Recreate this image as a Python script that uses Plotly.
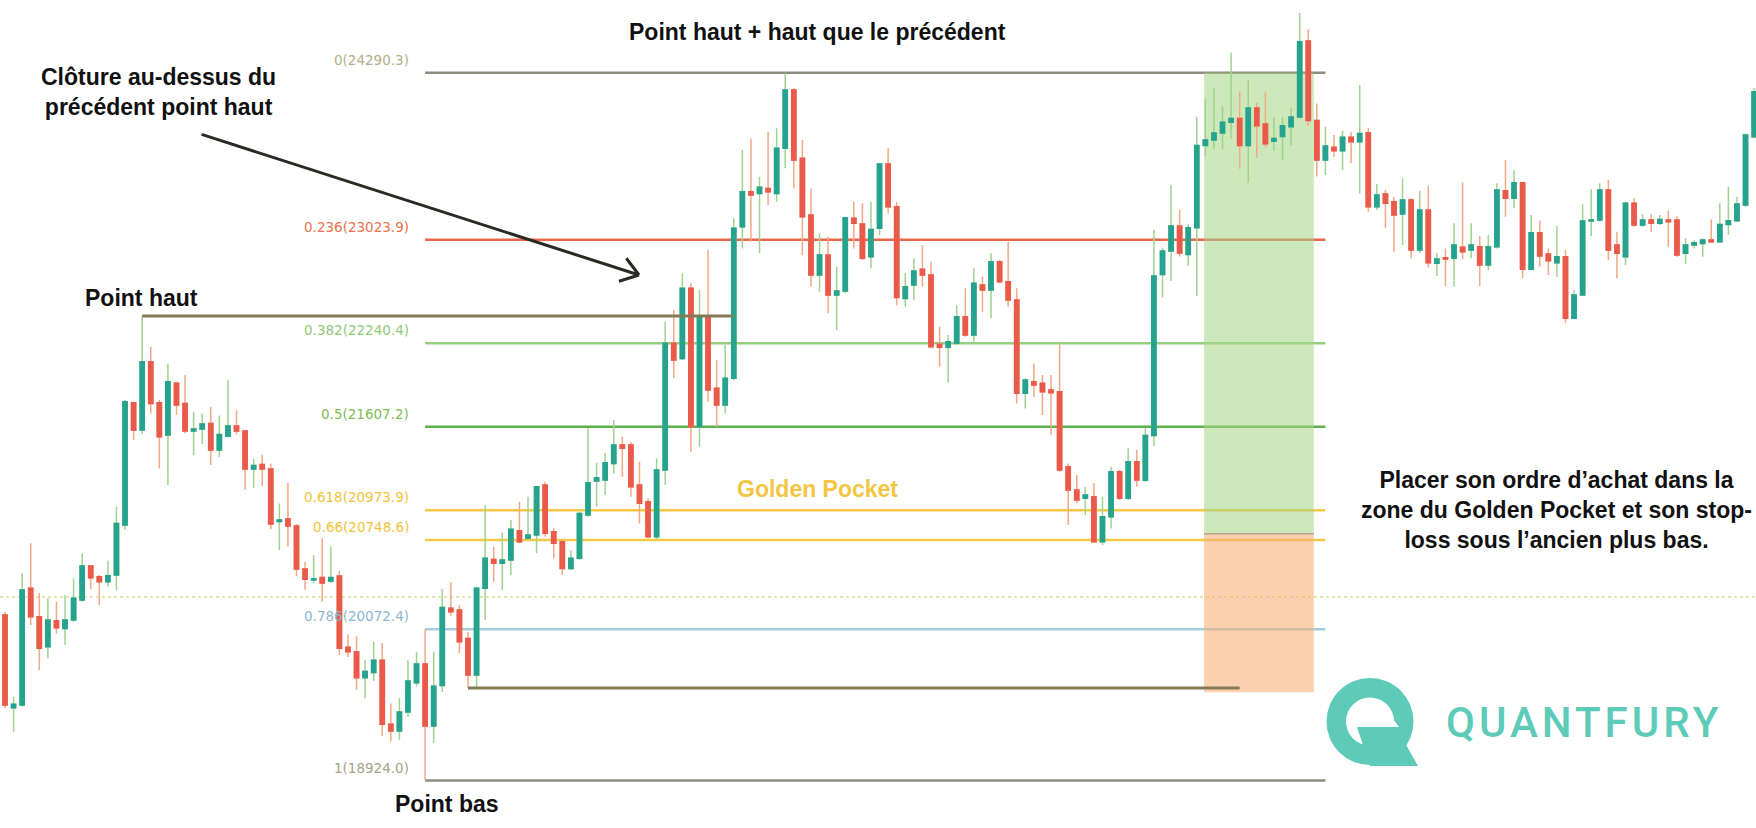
import math
import plotly.graph_objects as go

W, H = 1756, 828

# ---------------- data ----------------
opens = [20179, 19476, 19497, 20382, 20166, 19939, 20136, 20078, 20141, 20293,
         20551, 20470, 20432, 20482, 20861, 21789, 21582, 22100, 21789, 21544,
         21936, 21784, 21574, 21589, 21632, 21430, 21535, 21613, 21574, 21286,
         21320, 21286, 20889, 20907, 20855, 20528, 20444, 20463, 20437, 20476,
         19935, 19901, 19704, 19744, 19836, 19352, 19300, 19444, 19665, 19809,
         19338, 19645, 20230, 20217, 20002, 19724, 20382, 20601, 20571, 20596,
         20818, 20761, 20786, 21165, 20811, 20735, 20533, 20609, 20937, 21195,
         21203, 21329, 21468, 21468, 21165, 21038, 20773, 21279, 22239, 22125,
         22656, 21607, 22441, 21898, 21771, 21974, 23123, 23389, 23376, 23414,
         23376, 23718, 24160, 23642, 23212, 22757, 22909, 22605, 22636, 23187,
         23144, 22896, 23111, 23599, 23275, 22580, 22681, 22800, 22757, 22232,
         22209, 22239, 22441, 22302, 22681, 22643, 22858, 22706, 22567, 21860,
         21948, 21936, 21885, 21872, 21304, 21127, 21064, 21076, 20735, 20924,
         21266, 21064, 21341, 21202, 21541, 22762, 22939, 23129, 22912, 23115,
         23739, 23780, 23834, 23916, 23943, 23739, 24024, 23902, 23771, 23807,
         23881, 23956, 24531, 23929, 23629, 23725, 23699, 23801, 23768, 23836,
         23275, 23371, 23313, 23220, 23326, 22947, 23250, 22846, 22888, 22884,
         22967, 22947, 22972, 22833, 22972, 23396, 23339, 23457, 22800, 23078,
         22916, 22850, 22896, 22429, 22605, 23166, 23174, 23401, 22984, 22896,
         23301, 23136, 23174, 23149, 23174, 23174, 22922, 22984, 22997, 23022,
         23009, 23141, 23169, 23288, 23806]
highs = [20202, 19560, 20495, 20723, 20344, 20306, 20280, 20331, 20457, 20647,
         20558, 20482, 20591, 21000, 21809, 21796, 22446, 22213, 21809, 22087,
         21948, 21999, 21721, 21708, 21758, 21692, 21959, 21731, 21574, 21365,
         21392, 21326, 21025, 21181, 20869, 20581, 20634, 20763, 20698, 20515,
         20031, 20018, 19836, 19979, 19967, 19509, 19548, 19836, 19901, 20071,
         19901, 20376, 20429, 20255, 20052, 20394, 21013, 20697, 20803, 20899,
         21038, 21076, 21152, 21190, 20836, 20748, 20672, 20962, 21595, 21334,
         21405, 21658, 21531, 21493, 21341, 21064, 21367, 22403, 22492, 22770,
         22694, 22643, 22947, 22113, 22226, 23187, 23705, 23793, 23502, 23844,
         23869, 24286, 24173, 23781, 23414, 23073, 23047, 22820, 23199, 23313,
         23301, 23313, 23604, 23718, 23313, 22770, 22884, 22984, 22858, 22365,
         22302, 22530, 22656, 22808, 22744, 22922, 22871, 23009, 22656, 21974,
         22087, 21999, 21999, 22239, 21329, 21241, 21152, 21178, 21076, 21304,
         21279, 21443, 21430, 21595, 23101, 22966, 23441, 23251, 23142, 23956,
         24092, 24173, 24038, 24445, 24146, 24233, 24065, 24141, 23956, 23956,
         24024, 24743, 24621, 24057, 23881, 23818, 23851, 23844, 24198, 23869,
         23447, 23401, 23351, 23490, 23339, 23396, 23432, 22926, 22959, 23149,
         23460, 23149, 23053, 23060, 23452, 23629, 23553, 23464, 23212, 23169,
         22959, 23129, 22947, 22643, 23293, 23407, 23452, 23477, 23085, 23313,
         23339, 23220, 23220, 23212, 23245, 23204, 23035, 23022, 23035, 23179,
         23301, 23426, 23351, 23831, 24173]
lows = [19474, 19294, 19484, 20103, 19762, 19851, 20040, 19952, 20128, 20280,
        20374, 20255, 20394, 20369, 20824, 21506, 21551, 21708, 21291, 21165,
        21696, 21557, 21392, 21476, 21316, 21377, 21535, 21548, 21129, 21143,
        21157, 20829, 20672, 20698, 20476, 20371, 20423, 20280, 20423, 19874,
        19861, 19613, 19548, 19679, 19260, 19221, 19234, 19404, 19639, 18924,
        19209, 19595, 20171, 19889, 19626, 19626, 20141, 20432, 20369, 20482,
        20723, 20748, 20647, 20773, 20609, 20482, 20520, 20596, 20924, 21000,
        21089, 21253, 21228, 21076, 20874, 20761, 20755, 21165, 21974, 22113,
        21417, 21455, 21796, 21607, 21708, 21961, 22959, 23009, 22922, 23288,
        23313, 23566, 23414, 22909, 22668, 22630, 22467, 22340, 22618, 22959,
        22871, 22808, 23060, 23225, 22530, 22517, 22567, 22668, 22201, 22062,
        21940, 22226, 22289, 22251, 22479, 22429, 22694, 22517, 21784, 21746,
        21834, 21696, 21544, 21266, 20861, 21026, 20937, 20730, 20710, 20836,
        21051, 21051, 21152, 21188, 21460, 22586, 22711, 22898, 22830, 22599,
        23658, 23712, 23712, 23793, 23563, 23455, 23644, 23725, 23699, 23630,
        23739, 23943, 23888, 23505, 23515, 23654, 23553, 23604, 23376, 23237,
        23250, 23111, 22934, 22984, 22884, 22922, 22815, 22749, 22673, 22668,
        22876, 22884, 22673, 22795, 22959, 23199, 23263, 22732, 22795, 22820,
        22757, 22744, 22391, 22429, 22605, 23053, 23161, 22871, 22732, 22833,
        23123, 23123, 23085, 23136, 22972, 22896, 22840, 22959, 22896, 23002,
        23002, 23060, 23161, 23275, 23793]
closes = [19497, 19502, 20369, 20166, 19927, 20141, 20083, 20141, 20306, 20551,
          20462, 20432, 20477, 20874, 21796, 21582, 22100, 21784, 21531, 21948,
          21771, 21574, 21589, 21627, 21430, 21548, 21613, 21574, 21287, 21313,
          21286, 20869, 20899, 20854, 20528, 20450, 20455, 20423, 20463, 19927,
          19901, 19704, 19751, 19836, 19352, 19300, 19444, 19679, 19809, 19338,
          19639, 20236, 20204, 19977, 19724, 20382, 20609, 20571, 20596, 20829,
          20735, 20786, 21152, 20799, 20723, 20533, 20609, 20950, 21182, 21220,
          21334, 21468, 21443, 21152, 21026, 20773, 21279, 22239, 22113, 22656,
          21607, 22441, 21885, 21771, 21974, 23111, 23389, 23364, 23422, 23389,
          23718, 24160, 23629, 23199, 22757, 22909, 22605, 22636, 23191, 23149,
          22884, 23103, 23599, 23275, 22586, 22668, 22787, 22757, 22213, 22209,
          22251, 22441, 22302, 22694, 22643, 22858, 22706, 22567, 21860, 21961,
          21923, 21872, 21865, 21279, 21127, 21051, 21089, 20735, 20924, 21266,
          21064, 21341, 21203, 21541, 22749, 22939, 23129, 22925, 23115, 23739,
          23780, 23834, 23916, 23943, 23739, 24024, 23888, 23752, 23793, 23888,
          23956, 24526, 23929, 23629, 23735, 23699, 23801, 23768, 23831, 23275,
          23364, 23301, 23212, 23326, 22947, 23250, 22850, 22878, 22878, 22984,
          22934, 22984, 22833, 22972, 23401, 23339, 23457, 22800, 23078, 22901,
          22865, 22896, 22429, 22605, 23166, 23174, 23401, 22947, 22922, 23301,
          23136, 23174, 23149, 23179, 23161, 22909, 22984, 23002, 23022, 23009,
          23141, 23169, 23295, 23818, 24147]

fib_ratios = [0, 0.236, 0.382, 0.5, 0.618, 0.66, 0.786, 1]
fib_prices = [24290.3, 23023.9, 22240.4, 21607.2, 20973.9, 20748.6, 20072.4, 18924.0]

dotted_level = 20316
entry_price = 20795
stop_price = 19594

# ---------------- styling ----------------
TEAL = "#26a38f"
RED = "#ea5a4b"
TEAL_WICK = "#9fd38f"
RED_WICK = "#f4a883"

fib_line_colors = ["#8e8c7c", "#e8674a", "#95d07e", "#5faf4c",
                   "#f6c945", "#f6c945", "#a3cde0", "#8e8c7c"]
fib_label_colors = ["#b3ad88", "#e8734c", "#8fc977", "#80bc56",
                    "#f0c23c", "#f0c23c", "#8ab7ce", "#a5a286"]

FONT = "Liberation Sans, Arial, sans-serif"
LOGO = "#5ecbb8"

n = len(opens)
idx = list(range(n))

X_MIN, X_MAX = -0.583, 204.22
Y_MIN, Y_MAX = 18564.7, 24842.2

fig = go.Figure()

# wicks (full OHLC, light colours)
fig.add_trace(go.Candlestick(
    x=idx, open=opens, high=highs, low=lows, close=closes,
    increasing=dict(line=dict(color=TEAL_WICK, width=1.5), fillcolor=TEAL_WICK),
    decreasing=dict(line=dict(color=RED_WICK, width=1.5), fillcolor=RED_WICK),
    whiskerwidth=0, hoverinfo="skip", showlegend=False))

# bodies (no wick: high/low clipped to body)
body_hi = [max(o, c) for o, c in zip(opens, closes)]
body_lo = [min(o, c) for o, c in zip(opens, closes)]
fig.add_trace(go.Candlestick(
    x=idx, open=opens, high=body_hi, low=body_lo, close=closes,
    increasing=dict(line=dict(color=TEAL, width=1.5), fillcolor=TEAL),
    decreasing=dict(line=dict(color=RED, width=1.5), fillcolor=RED),
    whiskerwidth=0, hoverinfo="skip", showlegend=False))


def px(x):
    return x / W


def py(y):
    return 1 - y / H


shapes = []

# dotted horizontal line
shapes.append(dict(type="line", xref="x", yref="y", x0=X_MIN, x1=X_MAX,
                   y0=dotted_level, y1=dotted_level,
                   line=dict(color="#d9dd96", width=1.5, dash="dot"), layer="below"))

# fibonacci levels
fib_start, fib_end = 49, 154
for p, col in zip(fib_prices, fib_line_colors):
    shapes.append(dict(type="line", xref="x", yref="y", x0=fib_start, x1=fib_end,
                       y0=p, y1=p, line=dict(color=col, width=2.5), layer="below"))

# long position boxes
box_x0, box_x1 = 139.85, 152.65
shapes.append(dict(type="rect", xref="x", yref="y", x0=box_x0, x1=box_x1,
                   y0=entry_price, y1=fib_prices[0],
                   fillcolor="rgba(164,214,132,0.55)", line=dict(width=0), layer="below"))
shapes.append(dict(type="rect", xref="x", yref="y", x0=box_x0, x1=box_x1,
                   y0=stop_price, y1=entry_price,
                   fillcolor="rgba(246,176,120,0.6)", line=dict(width=0), layer="below"))
shapes.append(dict(type="line", xref="x", yref="y", x0=box_x0, x1=box_x1,
                   y0=entry_price, y1=entry_price,
                   line=dict(color="#b7a48e", width=1.5), layer="below"))

# previous swing high line & swing low line
high_idx, high_end = 16, 85
shapes.append(dict(type="line", xref="x", yref="y", x0=high_idx, x1=high_end,
                   y0=highs[high_idx], y1=highs[high_idx],
                   line=dict(color="#857a58", width=3), layer="above"))
low_idx, low_end = 54, 144
shapes.append(dict(type="line", xref="x", yref="y", x0=low_idx, x1=low_end,
                   y0=lows[low_idx], y1=lows[low_idx],
                   line=dict(color="#857a58", width=3), layer="above"))

# annotation arrow (decorative)
ax0, ay0 = 201.6, 134.4
ax1, ay1 = 639.0, 275.0
ARROW = "#2b2a20"
shapes.append(dict(type="line", xref="paper", yref="paper",
                   x0=px(ax0), y0=py(ay0), x1=px(ax1), y1=py(ay1),
                   line=dict(color=ARROW, width=3)))
dx, dy = ax0 - ax1, ay0 - ay1
L = math.hypot(dx, dy)
ux, uy = dx / L, dy / L
for ang in (35, -35):
    a = math.radians(ang)
    rx = ux * math.cos(a) - uy * math.sin(a)
    ry = ux * math.sin(a) + uy * math.cos(a)
    shapes.append(dict(type="line", xref="paper", yref="paper",
                       x0=px(ax1), y0=py(ay1), x1=px(ax1 + 21 * rx), y1=py(ay1 + 21 * ry),
                       line=dict(color=ARROW, width=3)))

# Quantfury "Q" logo
cx, cy, R, r = 1370, 721.5, 43.5, 24
shapes.append(dict(type="circle", xref="paper", yref="paper",
                   x0=px(cx - R), x1=px(cx + R), y0=py(cy + R), y1=py(cy - R),
                   fillcolor=LOGO, line=dict(width=0)))
shapes.append(dict(type="circle", xref="paper", yref="paper",
                   x0=px(cx - r), x1=px(cx + r), y0=py(cy + r), y1=py(cy - r),
                   fillcolor="white", line=dict(width=0)))


def poly(pts, color):
    d = "M " + " L ".join(f"{px(x):.5f},{py(y):.5f}" for x, y in pts) + " Z"
    return dict(type="path", xref="paper", yref="paper", path=d,
                fillcolor=color, line=dict(width=0))


shapes.append(poly([(1388, 712), (1399, 727), (1382, 727)], "white"))
shapes.append(poly([(1357, 727), (1396, 727), (1418, 766), (1370, 766)], LOGO))

annotations = []

# fib labels
label_x = 47.35
for rt, p, col in zip(fib_ratios, fib_prices, fib_label_colors):
    annotations.append(dict(x=label_x, y=p, xref="x", yref="y",
                            text=f"{rt}({p:.1f})", showarrow=False,
                            xanchor="right", yanchor="middle", yshift=13,
                            font=dict(family="DejaVu Sans, sans-serif", size=13.5, color=col)))


def txt(x, y, s, size=23, color="#111111", align="center"):
    annotations.append(dict(x=px(x), y=py(y), xref="paper", yref="paper",
                            text=s, showarrow=False, xanchor="center", yanchor="middle",
                            align=align,
                            font=dict(family=FONT, size=size, color=color)))


txt(817.6, 32.5, "<b>Point haut + haut que le précédent</b>")
txt(158.5, 92.5, "<b>Clôture au-dessus du<br>précédent point haut</b>")
txt(141, 298, "<b>Point haut</b>")
txt(446.5, 804, "<b>Point bas</b>")
txt(817.6, 489.4, "<b>Golden Pocket</b>", color="#f4c542")
txt(1556, 510, "<b>Placer son ordre d’achat dans la<br>zone du Golden Pocket et son stop-<br>loss sous l’ancien plus bas.</b>")

annotations.append(dict(x=px(1583.5), y=py(722), xref="paper", yref="paper",
                        text='<span style="letter-spacing:4px">QUANTFURY</span>',
                        showarrow=False, xanchor="center", yanchor="middle",
                        font=dict(family="Roboto, sans-serif", size=42, color=LOGO, weight=500)))

fig.update_layout(
    width=W, height=H,
    margin=dict(l=0, r=0, t=0, b=0, pad=0),
    paper_bgcolor="white", plot_bgcolor="white",
    showlegend=False, hovermode=False,
    shapes=shapes, annotations=annotations,
    xaxis=dict(range=[X_MIN, X_MAX], visible=False, rangeslider=dict(visible=False),
               showgrid=False, zeroline=False),
    yaxis=dict(range=[Y_MIN, Y_MAX], visible=False, showgrid=False, zeroline=False),
)

fig.write_html("out.html")
